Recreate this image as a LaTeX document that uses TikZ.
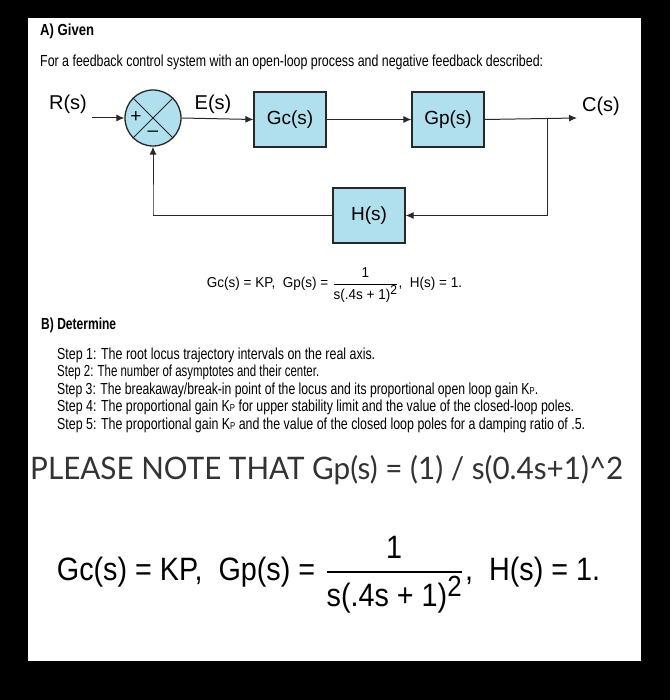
\documentclass[tikz,border=0pt]{standalone}
\usepackage{amsmath}
\usepackage{fontspec}
\usepackage{graphicx}
\setmainfont{Liberation Sans}
\newfontfamily\bigfont{Lato}
\usetikzlibrary{arrows.meta}
\definecolor{boxblue}{RGB}{176,224,238}
\definecolor{edge}{RGB}{40,40,40}
\newcommand{\myfrac}{$\dfrac{\mbox{1}}{\mbox{s(.4s + 1)\raisebox{0.55ex}{\small 2}}}$}
\begin{document}
\begin{tikzpicture}[x=1pt,y=-1pt,
  blk/.style={draw=edge,line width=1.3pt,fill=boxblue,minimum width=72pt,minimum height=55pt,font=\fontsize{19}{19}\selectfont,inner sep=0pt},
  sig/.style={line width=1pt,draw=edge},
  arr/.style={sig,-{Latex[length=8pt,width=7pt]}},
  lab/.style={font=\fontsize{20}{20}\selectfont,inner sep=0pt},
  txt/.style={anchor=west,inner sep=0pt,font=\fontsize{16}{16}\selectfont}]
\useasboundingbox (0,0) rectangle (670,700);
\fill[black] (0,0) rectangle (670,700);
\fill[white] (28,18) rectangle (641,661);
\node[txt,font=\fontsize{16}{16}\selectfont\bfseries] (ta) at (40,31) {\resizebox{54pt}{\height}{A) Given}};
\node[txt] (tb) at (40,62) {\resizebox{503pt}{\height}{For a feedback control system with an open-loop process and negative feedback described:}};
\node[circle,draw=edge,line width=1.3pt,fill=boxblue,minimum size=56pt,inner sep=0pt] (sum) at (153,118) {};
\draw[edge,line width=1pt] (sum.north west) -- (sum.south east) (sum.north east) -- (sum.south west);
\node[lab,font=\fontsize{19}{19}\selectfont] (plus) at (136,117) {+};
\node[lab,font=\fontsize{19}{19}\selectfont] (minus) at (153,134) {\textendash};
\node[blk] (gc) at (290,119.5) {Gc(s)};
\node[blk] (gp) at (448,119.5) {Gp(s)};
\node[blk] (h) at (369,215.5) {H(s)};
\coordinate (rin) at (92,118);
\coordinate (br) at (547,118);
\coordinate (cout) at (577,118);
\coordinate (fb) at (153,214);
\node[lab] (rl) at (68,104) {R(s)};
\node[lab] (el) at (213,104) {E(s)};
\node[lab] (cl) at (601,106) {C(s)};
\draw[arr] (rin) -- (sum.west);
\draw[arr] (sum.east) -- (gc.west);
\draw[arr] (gc.east) -- (gp.west);
\draw[arr] (gp.east) -- (cout);
\draw[arr] (br) |- (h.east);
\draw[arr] (h.west) -| (fb) -- (sum.south);
\node[inner sep=0pt] (f1) at (334.5,285) {\resizebox*{255pt}{34pt}{Gc(s) = KP,\ \ Gp(s) = \myfrac\mbox{, }\ H(s) = 1.}};
\node[txt,font=\fontsize{16}{16}\selectfont\bfseries] (td) at (41,325) {\resizebox{75pt}{\height}{B) Determine}};
\node[txt] (s1) at (57,355) {\resizebox{318pt}{\height}{Step 1: The root locus trajectory intervals on the real axis.}};
\node[txt] (s2) at (57,372.5) {\resizebox{262pt}{\height}{Step 2: The number of asymptotes and their center.}};
\node[txt] (s3) at (57,390) {\resizebox{481pt}{\height}{Step 3: The breakaway/break-in point of the locus and its proportional open loop gain K{\fontsize{10}{10}\selectfont P}.}};
\node[txt] (s4) at (57,407.5) {\resizebox{517pt}{\height}{Step 4: The proportional gain K{\fontsize{10}{10}\selectfont P} for upper stability limit and the value of the closed-loop poles.}};
\node[txt] (s5) at (57,425) {\resizebox{528pt}{\height}{Step 5: The proportional gain K{\fontsize{10}{10}\selectfont P} and the value of the closed loop poles for a damping ratio of .5.}};
\node[txt,font=\bigfont\fontsize{31}{31}\selectfont,text=black!80] (note) at (30,470) {\resizebox{593pt}{\height}{PLEASE NOTE THAT Gp(s) = (1) / s(0.4s+1)\^{}2}};
\node[inner sep=0pt] (f2) at (328.5,574.5) {\resizebox*{543pt}{77pt}{Gc(s) = KP,\ \ Gp(s) = \myfrac\mbox{, }\ H(s) = 1.}};
\end{tikzpicture}
\end{document}
